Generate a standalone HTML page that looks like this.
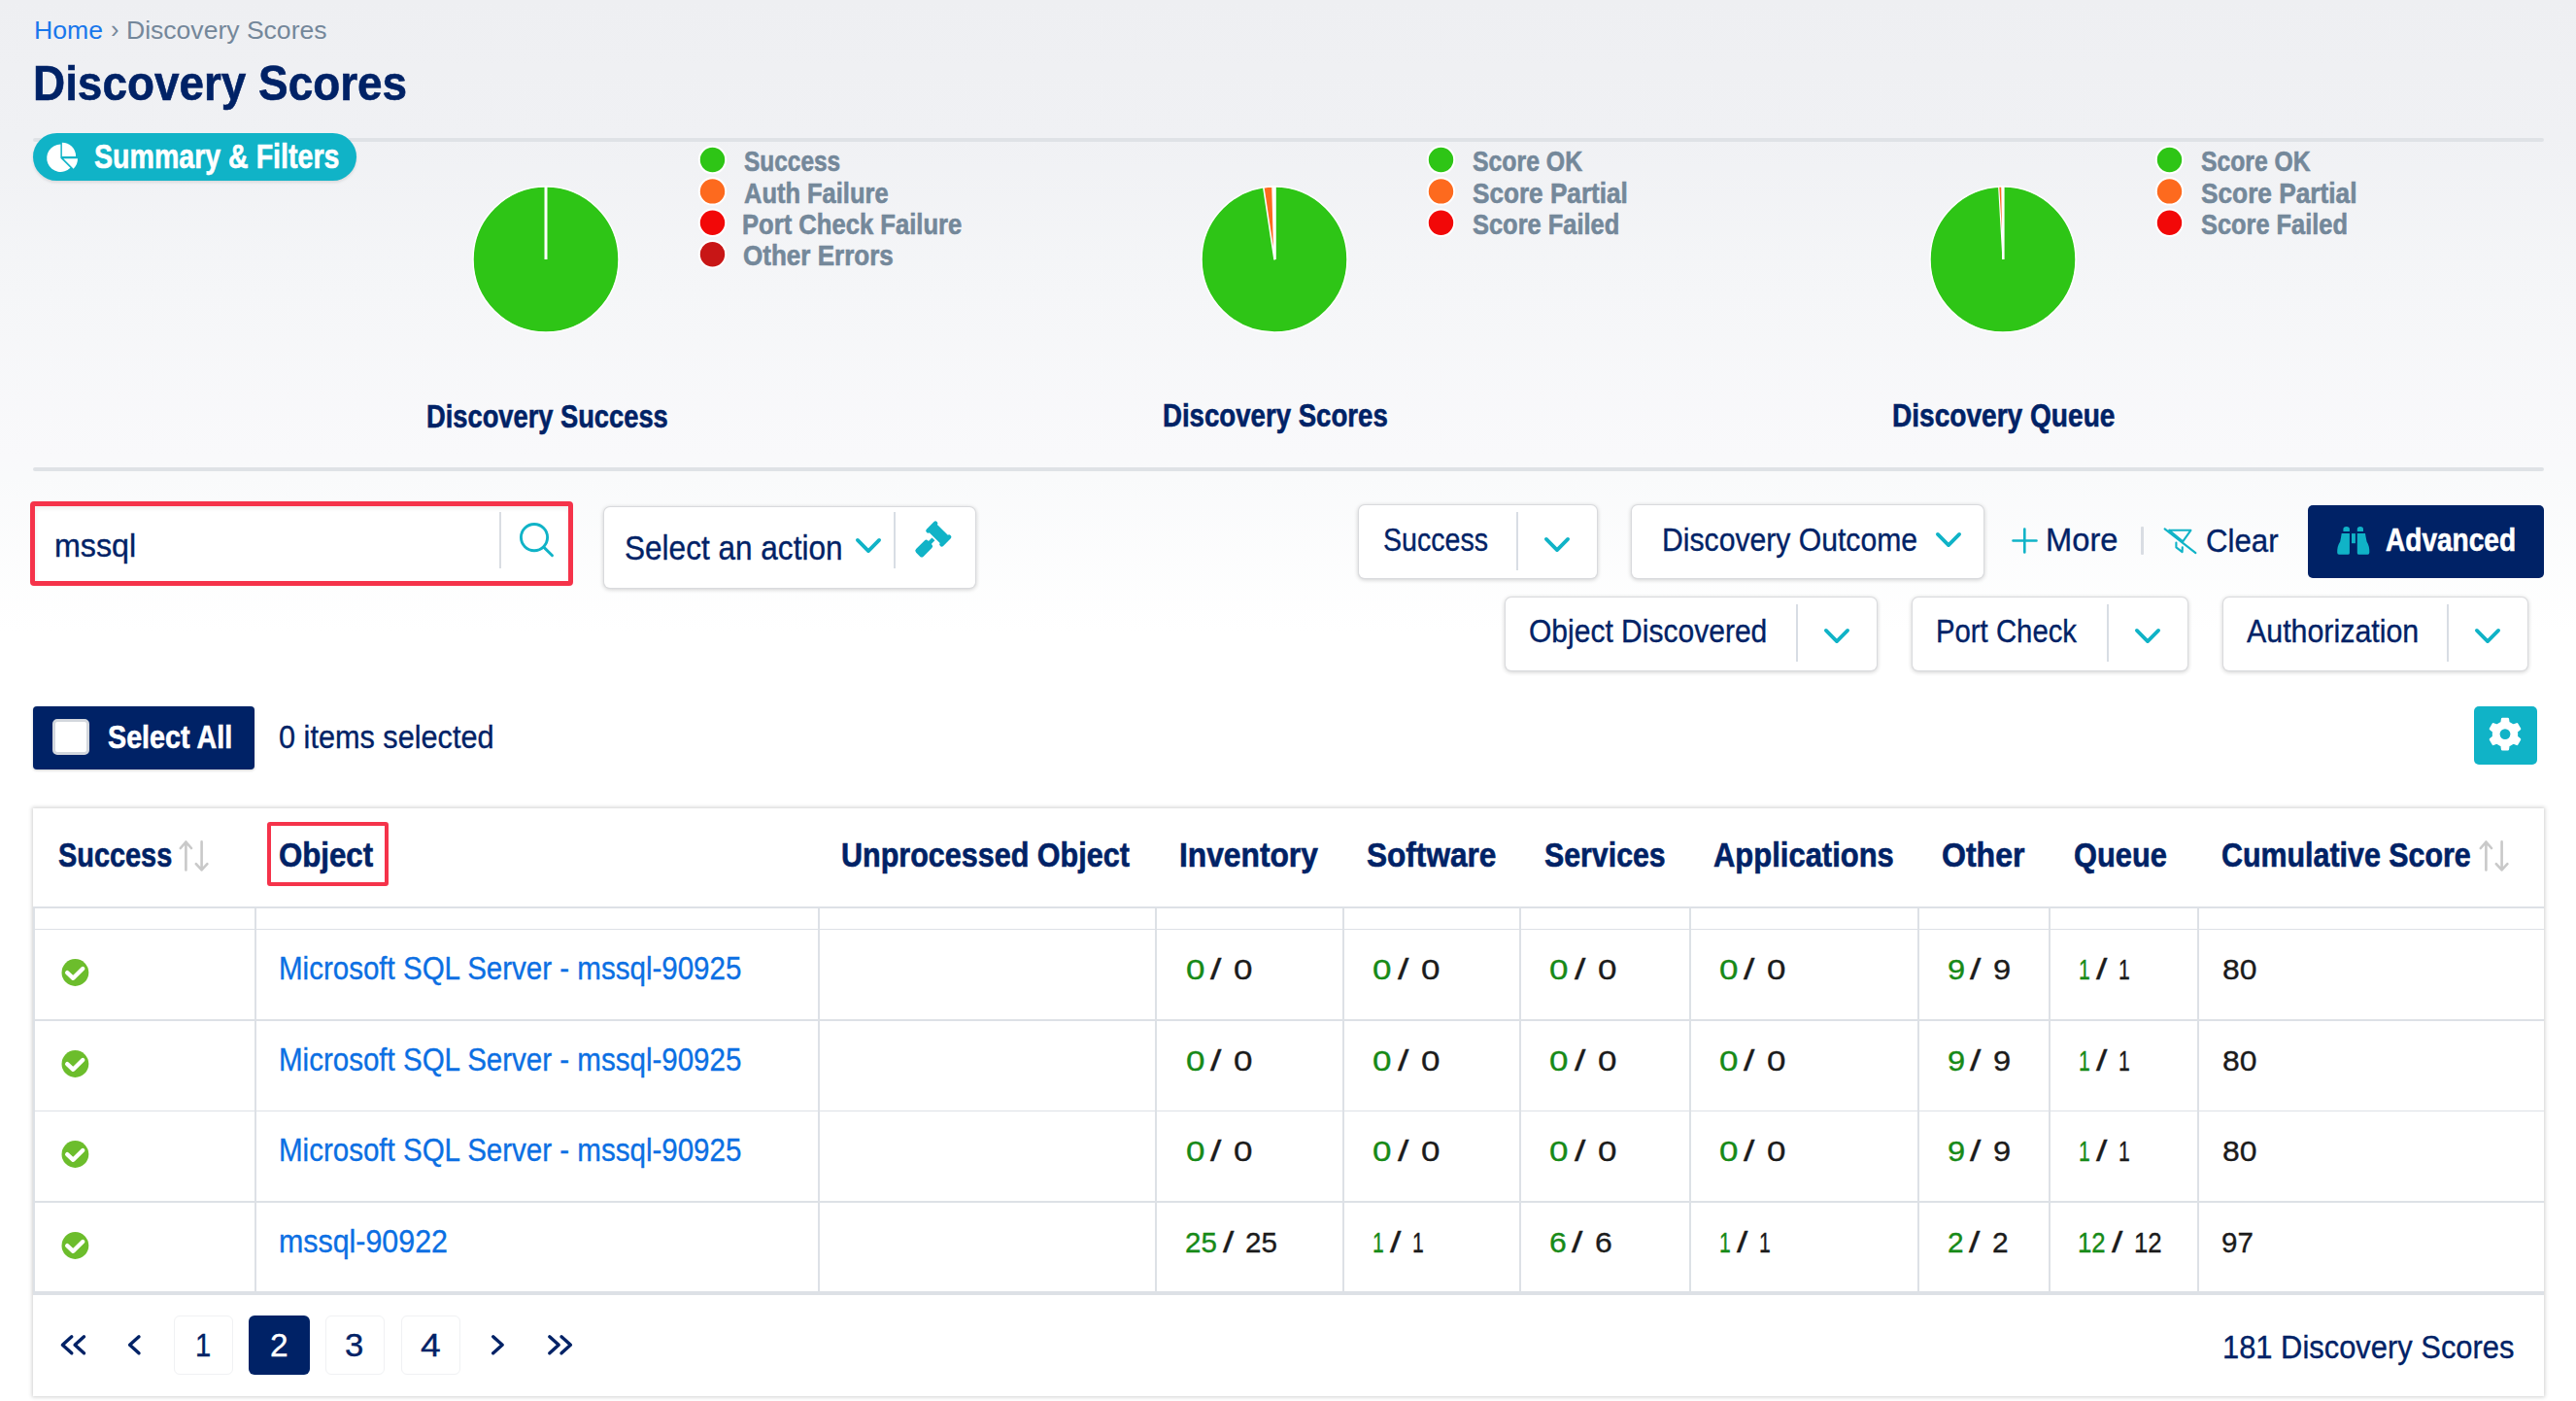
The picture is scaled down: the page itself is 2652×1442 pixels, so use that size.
<!DOCTYPE html>
<html><head><meta charset="utf-8"><title>Discovery Scores</title>
<style>
html,body{margin:0;padding:0}
body{width:2652px;height:1442px;position:relative;overflow:hidden;font-family:"Liberation Sans",sans-serif;background:linear-gradient(180deg,#eeeff2 0px,#f0f1f4 140px,#f5f6f8 300px,#f9f9fb 470px,#f9fafb 490px,#ffffff 650px,#ffffff 1442px)}
.a{position:absolute}
.t{position:absolute;white-space:pre;line-height:1;transform-origin:0 0;-webkit-text-stroke:0.35px currentColor}
.t[style*="font-weight:bold"]{-webkit-text-stroke:0.6px currentColor}
.dd{background:#fff;border-radius:6px;box-shadow:0 0 0 1px #d9dadd,0 1px 4px 1px rgba(0,0,0,.19)}
</style></head><body>
<div class="a" style="left:34px;top:142px;width:2585px;height:4px;background:#dfe2e6;border-radius:2px"></div><div class="a" style="left:34px;top:481px;width:2585px;height:4px;background:#dfe2e6;border-radius:2px"></div><div class="a" style="left:34px;top:137px;width:333px;height:49px;border-radius:25px;background:#10b3c7;box-shadow:0 2px 3px rgba(0,0,0,.10)"></div><svg class="a" style="left:0;top:0" width="400" height="200"><path d="M62.4,162.7 L72.44,172.74 A14.2,14.2 0 1 1 62.4,148.5 Z" fill="#fff"/><path d="M63.9,160.9 L63.90,146.70 A14.2,14.2 0 0 1 78.10,160.9 Z" fill="#fff"/><path d="M65.3,163.3 L80.00,163.30 A14.7,14.7 0 0 1 75.69,173.69 Z" fill="#fff"/></svg><svg class="a" style="left:0;top:0" width="2652" height="480"><circle cx="562" cy="267" r="75" fill="#2ec516" stroke="#fff" stroke-width="1.5"/><line x1="562" y1="191" x2="562" y2="267" stroke="#fff" stroke-width="3"/><circle cx="1312" cy="267" r="75" fill="#2ec516" stroke="#fff" stroke-width="1.5"/><path d="M1312,267 L1300.78,192.84 A75,75 0 0 1 1310.04,192.03 Z" fill="#fd6a1e" stroke="#fff" stroke-width="1.6" stroke-linejoin="round"/><path d="M1312,267 L1312,191 L1310.43,191 Z" fill="#fff"/><line x1="1312.6" y1="191" x2="1312.6" y2="267" stroke="#fff" stroke-width="2.4"/><circle cx="2062" cy="267" r="75" fill="#2ec516" stroke="#fff" stroke-width="1.5"/><path d="M2062,267 L2057.68,192.12 A75,75 0 0 1 2060.82,192.01 Z" fill="#fd6a1e" stroke="#fff" stroke-width="1.2"/><line x1="2062.3" y1="191" x2="2062.3" y2="267" stroke="#fff" stroke-width="2.6"/><circle cx="733.5" cy="164.5" r="13.7" fill="#2ec516" stroke="#fff" stroke-width="2"/><circle cx="733.5" cy="196.9" r="13.7" fill="#fd6a1e" stroke="#fff" stroke-width="2"/><circle cx="733.5" cy="229.3" r="13.7" fill="#f20808" stroke="#fff" stroke-width="2"/><circle cx="733.5" cy="261.7" r="13.7" fill="#c81616" stroke="#fff" stroke-width="2"/><circle cx="1483.5" cy="164.5" r="13.7" fill="#2ec516" stroke="#fff" stroke-width="2"/><circle cx="1483.5" cy="196.9" r="13.7" fill="#fd6a1e" stroke="#fff" stroke-width="2"/><circle cx="1483.5" cy="229.3" r="13.7" fill="#f20808" stroke="#fff" stroke-width="2"/><circle cx="2233.5" cy="164.5" r="13.7" fill="#2ec516" stroke="#fff" stroke-width="2"/><circle cx="2233.5" cy="196.9" r="13.7" fill="#fd6a1e" stroke="#fff" stroke-width="2"/><circle cx="2233.5" cy="229.3" r="13.7" fill="#f20808" stroke="#fff" stroke-width="2"/></svg><div class="a" style="left:31.4px;top:516.4px;width:549px;height:76.9px;border:5.8px solid #f5334a;border-radius:4px;background:#fff;box-shadow:inset 1px 3px 4px rgba(0,0,0,.06)"></div><div class="a" style="left:514px;top:527px;width:2px;height:58px;background:#d9dde3"></div><svg class="a" style="left:520px;top:525px" width="60" height="60"><circle cx="30" cy="28.1" r="13.6" fill="none" stroke="#10b3c7" stroke-width="2.9"/><line x1="40" y1="38.4" x2="48.5" y2="46.7" stroke="#10b3c7" stroke-width="2.9" stroke-linecap="round"/></svg><div class="a dd" style="left:621.5px;top:521.5px;width:382.0px;height:83.0px"></div><div class="a" style="left:920px;top:527px;width:2px;height:58px;background:#d8dde4"></div><svg class="a" style="left:878px;top:550.7px" width="32" height="21"><polyline points="4.9,4.9 16.0,16.1 27.1,4.9" fill="none" stroke="#10b3c7" stroke-width="3.8" stroke-linecap="round" stroke-linejoin="round"/></svg><svg class="a" style="left:930px;top:525px" width="60" height="60"><g transform="translate(36.3,24.5) rotate(45)" fill="#10b3c7"><rect x="-9.5" y="-5.8" width="19" height="11.6"/><rect x="-12.2" y="-7.6" width="4.6" height="15.2" rx="2.2"/><rect x="7.6" y="-7.6" width="4.6" height="15.2" rx="2.2"/><rect x="-2.1" y="7.6" width="4.2" height="6.5"/><rect x="-5.4" y="12.6" width="10.8" height="17.4" rx="2.6"/></g></svg><div class="a dd" style="left:1398.5px;top:520px;width:245.0px;height:75px"></div><div class="a" style="left:1560.8px;top:527.3px;width:2px;height:59.5px;background:#d8dde4"></div><svg class="a" style="left:1587px;top:549.5px" width="32" height="21"><polyline points="4.9,4.9 16.0,16.1 27.1,4.9" fill="none" stroke="#10b3c7" stroke-width="3.8" stroke-linecap="round" stroke-linejoin="round"/></svg><div class="a dd" style="left:1680px;top:520px;width:361.5px;height:75px"></div><svg class="a" style="left:1990px;top:545px" width="32" height="21"><polyline points="4.9,4.9 16.0,16.1 27.1,4.9" fill="none" stroke="#10b3c7" stroke-width="3.8" stroke-linecap="round" stroke-linejoin="round"/></svg><svg class="a" style="left:2068px;top:540px" width="34" height="34"><path d="M16.3,4.5 V28.5 M4.5,16.5 H28.5" stroke="#10b3c7" stroke-width="2.6" stroke-linecap="round"/></svg><div class="a" style="left:2204px;top:542px;width:2.5px;height:29px;background:#d9dde3;border-radius:1px"></div><svg class="a" style="left:2220px;top:535px" width="50" height="45" fill="none" stroke="#10b3c7" stroke-width="2.1" stroke-linecap="round" stroke-linejoin="round"><path d="M13.2,10.8 H35.4 L27.2,22.4 L13.2,10.8"/><path d="M20.4,23.6 V28.4 L26.6,33.2 L26.8,28.4"/><path d="M8.6,9.3 L40.4,34.1"/></svg><div class="a" style="left:2376px;top:520px;width:242.5px;height:75px;background:#002266;border-radius:5px"></div><svg class="a" style="left:2395px;top:535px" width="55" height="45" fill="#10b3c7"><path d="M17.4,11.9 V9.6 Q17.4,7.1 20.65,7.1 Q23.9,7.1 23.9,9.6 V11.9 Z"/><path d="M15.7,14.1 H23.9 V34.2 A1.7,1.7 0 0 1 22.2,35.8 H13 A2,2 0 0 1 11.2,33.8 Q11,27 14.2,22.5 Q15.3,17 15.7,14.1 Z"/><rect x="26" y="14.1" width="3.9" height="10.1"/><path d="M31.8,14.1 H40 Q40.4,17 41.6,22.5 Q44.5,27 44.3,33.8 A2,2 0 0 1 42.5,35.8 H33.5 A1.7,1.7 0 0 1 31.8,34.2 Z"/><path d="M31.8,11.9 V9.6 Q31.8,7.1 34.9,7.1 Q38,7.1 38,9.6 V11.9 Z"/></svg><div class="a dd" style="left:1550px;top:614.5px;width:382px;height:75.5px"></div><div class="a" style="left:1848.8px;top:621.8px;width:2px;height:59.5px;background:#d8dde4"></div><svg class="a" style="left:1875px;top:644.2px" width="32" height="21"><polyline points="4.9,4.9 16.0,16.1 27.1,4.9" fill="none" stroke="#10b3c7" stroke-width="3.8" stroke-linecap="round" stroke-linejoin="round"/></svg><div class="a dd" style="left:1968.5px;top:614.5px;width:283.0px;height:75.5px"></div><div class="a" style="left:2169px;top:621.8px;width:2px;height:59.5px;background:#d8dde4"></div><svg class="a" style="left:2195px;top:644.2px" width="32" height="21"><polyline points="4.9,4.9 16.0,16.1 27.1,4.9" fill="none" stroke="#10b3c7" stroke-width="3.8" stroke-linecap="round" stroke-linejoin="round"/></svg><div class="a dd" style="left:2288.5px;top:614.5px;width:313.5px;height:75.5px"></div><div class="a" style="left:2518.7px;top:621.8px;width:2px;height:59.5px;background:#d8dde4"></div><svg class="a" style="left:2545px;top:644.2px" width="32" height="21"><polyline points="4.9,4.9 16.0,16.1 27.1,4.9" fill="none" stroke="#10b3c7" stroke-width="3.8" stroke-linecap="round" stroke-linejoin="round"/></svg><div class="a" style="left:34px;top:727px;width:228px;height:65px;background:#002266;border-radius:4px;box-shadow:0 1px 3px rgba(0,0,0,.2)"></div><div class="a" style="left:54px;top:740px;width:32px;height:31px;background:#fff;border:3px solid #d3d7dd;border-radius:5px"></div><div class="a" style="left:2547px;top:727px;width:65px;height:60px;background:#10b3c7;border-radius:5px"></div><svg class="a" style="left:2547px;top:727px" width="65" height="60"><path d="M28.64,16.87 L29.24,12.94 L34.76,12.94 L35.36,16.87 L40.47,19.82 L44.18,18.38 L46.94,23.16 L43.84,25.65 L43.84,31.55 L46.94,34.04 L44.18,38.82 L40.47,37.38 L35.36,40.33 L34.76,44.26 L29.24,44.26 L28.64,40.33 L23.53,37.38 L19.82,38.82 L17.06,34.04 L20.16,31.55 L20.16,25.65 L17.06,23.16 L19.82,18.38 L23.53,19.82 Z" fill="#fff" stroke="#fff" stroke-width="2.6" stroke-linejoin="round"/><circle cx="32" cy="28.6" r="5.4" fill="#10b3c7"/></svg><div class="a" style="left:34px;top:831.5px;width:2585px;height:605px;background:#fff;box-shadow:0 0 4px 1px rgba(0,0,0,.19)"></div><div class="a" style="left:34px;top:933px;width:2585px;height:2px;background:#dde1e6"></div><div class="a" style="left:34px;top:955.5px;width:2585px;height:1.8px;background:#dde1e6"></div><div class="a" style="left:34px;top:1049px;width:2585px;height:1.8px;background:#dde1e6"></div><div class="a" style="left:34px;top:1142.5px;width:2585px;height:1.8px;background:#dde1e6"></div><div class="a" style="left:34px;top:1236px;width:2585px;height:1.8px;background:#dde1e6"></div><div class="a" style="left:34px;top:1329.3px;width:2585px;height:3.6px;background:#dde1e6"></div><div class="a" style="left:34px;top:935px;width:1.9px;height:395px;background:#dde1e6"></div><div class="a" style="left:261.7px;top:935px;width:2px;height:395px;background:#dde1e6"></div><div class="a" style="left:841.7px;top:935px;width:2px;height:395px;background:#dde1e6"></div><div class="a" style="left:1189.2px;top:935px;width:2px;height:395px;background:#dde1e6"></div><div class="a" style="left:1381.8px;top:935px;width:2px;height:395px;background:#dde1e6"></div><div class="a" style="left:1564px;top:935px;width:2px;height:395px;background:#dde1e6"></div><div class="a" style="left:1739px;top:935px;width:2px;height:395px;background:#dde1e6"></div><div class="a" style="left:1973.7px;top:935px;width:2px;height:395px;background:#dde1e6"></div><div class="a" style="left:2109px;top:935px;width:2px;height:395px;background:#dde1e6"></div><div class="a" style="left:2262px;top:935px;width:2px;height:395px;background:#dde1e6"></div><svg class="a" style="left:61px;top:985.0px" width="32" height="32"><circle cx="16.4" cy="16" r="13.9" fill="#6cbd2c"/><polyline points="8.2,16.2 14.3,21.8 24.2,12" fill="none" stroke="#fff" stroke-width="4.4" stroke-linecap="round" stroke-linejoin="round"/></svg><svg class="a" style="left:61px;top:1078.6px" width="32" height="32"><circle cx="16.4" cy="16" r="13.9" fill="#6cbd2c"/><polyline points="8.2,16.2 14.3,21.8 24.2,12" fill="none" stroke="#fff" stroke-width="4.4" stroke-linecap="round" stroke-linejoin="round"/></svg><svg class="a" style="left:61px;top:1172.2px" width="32" height="32"><circle cx="16.4" cy="16" r="13.9" fill="#6cbd2c"/><polyline points="8.2,16.2 14.3,21.8 24.2,12" fill="none" stroke="#fff" stroke-width="4.4" stroke-linecap="round" stroke-linejoin="round"/></svg><svg class="a" style="left:61px;top:1265.8px" width="32" height="32"><circle cx="16.4" cy="16" r="13.9" fill="#6cbd2c"/><polyline points="8.2,16.2 14.3,21.8 24.2,12" fill="none" stroke="#fff" stroke-width="4.4" stroke-linecap="round" stroke-linejoin="round"/></svg><div class="a" style="left:275px;top:845.5px;width:116.5px;height:58.5px;border:4px solid #f5334a;border-radius:3px"></div><svg class="a" style="left:183.5px;top:862px" width="36" height="38" fill="none" stroke="#c9c9c9" stroke-width="2.6" stroke-linecap="round" stroke-linejoin="round"><path d="M7.4,33.4 V4.6 M1.8,11 L7.4,4.6 L13,11"/><path d="M23.6,4.4 V33.4 M17.8,27.2 L23.6,33.4 L29.4,27.2"/></svg><svg class="a" style="left:2551.5px;top:862px" width="36" height="38" fill="none" stroke="#c9c9c9" stroke-width="2.6" stroke-linecap="round" stroke-linejoin="round"><path d="M7.4,33.4 V4.6 M1.8,11 L7.4,4.6 L13,11"/><path d="M23.6,4.4 V33.4 M17.8,27.2 L23.6,33.4 L29.4,27.2"/></svg><div class="a" style="left:179px;top:1353.6px;width:59px;height:59.2px;border:1px solid #f0f1f3;border-radius:6px"></div><div class="a" style="left:256px;top:1353.6px;width:62.60000000000002px;height:61.2px;background:#002266;border-radius:6px"></div><div class="a" style="left:334.7px;top:1353.6px;width:59.19999999999999px;height:59.2px;border:1px solid #f0f1f3;border-radius:6px"></div><div class="a" style="left:413px;top:1353.6px;width:59px;height:59.2px;border:1px solid #f0f1f3;border-radius:6px"></div><svg class="a" style="left:50px;top:1365px" width="560" height="40" fill="none" stroke="#002266" stroke-width="3.4" stroke-linecap="round" stroke-linejoin="round"><polyline points="23.8,10.8 14.4,19.3 23.8,27.8"/><polyline points="36.5,10.8 27.1,19.3 36.5,27.8"/><polyline points="93.0,10.8 83.6,19.3 93.0,27.8"/><polyline points="457.7,10.8 467.1,19.3 457.7,27.8"/><polyline points="515.8,10.8 525.2,19.3 515.8,27.8"/><polyline points="528.0,10.8 537.4,19.3 528.0,27.8"/></svg>
<span class="t" style="left:35.42px;top:19.16px;font-size:25.44px;font-weight:normal;color:#1877ec;transform:scaleX(1.0458);-webkit-text-stroke:0px currentColor">Home</span>
<span class="t" style="left:114.30px;top:17.99px;font-size:25.40px;font-weight:normal;color:#74879a;transform:scaleX(1.0079);-webkit-text-stroke:0px currentColor">›</span>
<span class="t" style="left:129.93px;top:19.16px;font-size:25.44px;font-weight:normal;color:#74879a;transform:scaleX(1.0435);-webkit-text-stroke:0px currentColor">Discovery Scores</span>
<span class="t" style="left:34.13px;top:61.42px;font-size:50.29px;font-weight:bold;color:#002266;transform:scaleX(0.9123)">Discovery Scores</span>
<span class="t" style="left:96.55px;top:143.58px;font-size:34.16px;font-weight:bold;color:#ffffff;transform:scaleX(0.8362)">Summary &amp; Filters</span>
<span class="t" style="left:765.62px;top:152.21px;font-size:28.92px;font-weight:bold;color:#74889a;transform:scaleX(0.8456)">Success</span>
<span class="t" style="left:765.60px;top:184.61px;font-size:28.92px;font-weight:bold;color:#74889a;transform:scaleX(0.8809)">Auth Failure</span>
<span class="t" style="left:764.40px;top:217.01px;font-size:28.92px;font-weight:bold;color:#74889a;transform:scaleX(0.8860)">Port Check Failure</span>
<span class="t" style="left:765.19px;top:249.41px;font-size:28.92px;font-weight:bold;color:#74889a;transform:scaleX(0.9004)">Other Errors</span>
<span class="t" style="left:1515.61px;top:152.21px;font-size:28.92px;font-weight:bold;color:#74889a;transform:scaleX(0.8586)">Score OK</span>
<span class="t" style="left:1515.59px;top:184.61px;font-size:28.92px;font-weight:bold;color:#74889a;transform:scaleX(0.9044)">Score Partial</span>
<span class="t" style="left:1515.60px;top:217.01px;font-size:28.92px;font-weight:bold;color:#74889a;transform:scaleX(0.8797)">Score Failed</span>
<span class="t" style="left:2265.61px;top:152.21px;font-size:28.92px;font-weight:bold;color:#74889a;transform:scaleX(0.8548)">Score OK</span>
<span class="t" style="left:2265.59px;top:184.61px;font-size:28.92px;font-weight:bold;color:#74889a;transform:scaleX(0.9079)">Score Partial</span>
<span class="t" style="left:2265.60px;top:217.01px;font-size:28.92px;font-weight:bold;color:#74889a;transform:scaleX(0.8780)">Score Failed</span>
<span class="t" style="left:439.29px;top:411.69px;font-size:33.43px;font-weight:bold;color:#002266;transform:scaleX(0.8163)">Discovery Success</span>
<span class="t" style="left:1197.27px;top:410.69px;font-size:33.43px;font-weight:bold;color:#002266;transform:scaleX(0.8262)">Discovery Scores</span>
<span class="t" style="left:1948.24px;top:410.89px;font-size:33.43px;font-weight:bold;color:#002266;transform:scaleX(0.8401)">Discovery Queue</span>
<span class="t" style="left:55.69px;top:545.68px;font-size:32.50px;font-weight:normal;color:#002266;transform:scaleX(0.9914)">mssql</span>
<span class="t" style="left:643.41px;top:546.99px;font-size:34.74px;font-weight:normal;color:#002266;transform:scaleX(0.9084)">Select an action</span>
<span class="t" style="left:1423.51px;top:538.76px;font-size:32.99px;font-weight:normal;color:#002266;transform:scaleX(0.8660)">Success</span>
<span class="t" style="left:1710.64px;top:538.76px;font-size:32.99px;font-weight:normal;color:#002266;transform:scaleX(0.9142)">Discovery Outcome</span>
<span class="t" style="left:2106.45px;top:538.69px;font-size:33.43px;font-weight:normal;color:#002266;transform:scaleX(0.9778)">More</span>
<span class="t" style="left:2271.24px;top:539.69px;font-size:33.43px;font-weight:normal;color:#002266;transform:scaleX(0.9340)">Clear</span>
<span class="t" style="left:2456.06px;top:539.19px;font-size:33.43px;font-weight:bold;color:#ffffff;transform:scaleX(0.8395)">Advanced</span>
<span class="t" style="left:1574.29px;top:633.46px;font-size:32.99px;font-weight:normal;color:#002266;transform:scaleX(0.9103)">Object Discovered</span>
<span class="t" style="left:1992.51px;top:633.46px;font-size:32.99px;font-weight:normal;color:#002266;transform:scaleX(0.8887)">Port Check</span>
<span class="t" style="left:2313.00px;top:633.46px;font-size:32.99px;font-weight:normal;color:#002266;transform:scaleX(0.9207)">Authorization</span>
<span class="t" style="left:111.25px;top:742.49px;font-size:33.43px;font-weight:bold;color:#ffffff;transform:scaleX(0.8587)">Select All</span>
<span class="t" style="left:286.94px;top:742.49px;font-size:33.43px;font-weight:normal;color:#002266;transform:scaleX(0.9173)">0 items selected</span>
<span class="t" style="left:59.55px;top:863.08px;font-size:34.16px;font-weight:bold;color:#002266;transform:scaleX(0.8456)">Success</span>
<span class="t" style="left:287.02px;top:863.08px;font-size:34.16px;font-weight:bold;color:#002266;transform:scaleX(0.9138)">Object</span>
<span class="t" style="left:866.47px;top:863.08px;font-size:34.16px;font-weight:bold;color:#002266;transform:scaleX(0.8937)">Unprocessed Object</span>
<span class="t" style="left:1213.72px;top:863.08px;font-size:34.16px;font-weight:bold;color:#002266;transform:scaleX(0.9294)">Inventory</span>
<span class="t" style="left:1407.41px;top:863.08px;font-size:34.16px;font-weight:bold;color:#002266;transform:scaleX(0.9246)">Software</span>
<span class="t" style="left:1589.53px;top:863.08px;font-size:34.16px;font-weight:bold;color:#002266;transform:scaleX(0.8872)">Services</span>
<span class="t" style="left:1764.32px;top:863.08px;font-size:34.16px;font-weight:bold;color:#002266;transform:scaleX(0.9067)">Applications</span>
<span class="t" style="left:1999.00px;top:863.08px;font-size:34.16px;font-weight:bold;color:#002266;transform:scaleX(0.9381)">Other</span>
<span class="t" style="left:2134.54px;top:863.08px;font-size:34.16px;font-weight:bold;color:#002266;transform:scaleX(0.9016)">Queue</span>
<span class="t" style="left:2287.05px;top:863.08px;font-size:34.16px;font-weight:bold;color:#002266;transform:scaleX(0.8897)">Cumulative Score</span>
<span class="t" style="left:286.99px;top:980.36px;font-size:32.99px;font-weight:normal;color:#0b6fe3;transform:scaleX(0.8951)">Microsoft SQL Server - mssql-90925</span>
<span class="t" style="left:2287.70px;top:983.07px;font-size:29.80px;font-weight:normal;color:#1b1b1b;transform:scaleX(1.0707)">80</span>
<span class="t" style="left:286.99px;top:1073.96px;font-size:32.99px;font-weight:normal;color:#0b6fe3;transform:scaleX(0.8951)">Microsoft SQL Server - mssql-90925</span>
<span class="t" style="left:2287.70px;top:1076.67px;font-size:29.80px;font-weight:normal;color:#1b1b1b;transform:scaleX(1.0707)">80</span>
<span class="t" style="left:286.99px;top:1167.26px;font-size:32.99px;font-weight:normal;color:#0b6fe3;transform:scaleX(0.8951)">Microsoft SQL Server - mssql-90925</span>
<span class="t" style="left:2287.70px;top:1169.97px;font-size:29.80px;font-weight:normal;color:#1b1b1b;transform:scaleX(1.0707)">80</span>
<span class="t" style="left:287.40px;top:1260.86px;font-size:32.99px;font-weight:normal;color:#0b6fe3;transform:scaleX(0.9213)">mssql-90922</span>
<span class="t" style="left:2287.31px;top:1263.57px;font-size:29.80px;font-weight:normal;color:#1b1b1b;transform:scaleX(0.9921)">97</span>
<span class="t" style="left:200.88px;top:1369.25px;font-size:32.30px;font-weight:normal;color:#002266;transform:scaleX(0.9019)">1</span>
<span class="t" style="left:277.93px;top:1369.25px;font-size:32.30px;font-weight:normal;color:#ffffff;transform:scaleX(1.0369)">2</span>
<span class="t" style="left:355.32px;top:1369.25px;font-size:32.30px;font-weight:normal;color:#002266;transform:scaleX(1.0738)">3</span>
<span class="t" style="left:432.72px;top:1369.25px;font-size:32.30px;font-weight:normal;color:#002266;transform:scaleX(1.1528)">4</span>
<span class="t" style="left:2288.07px;top:1370.49px;font-size:33.43px;font-weight:normal;color:#002266;transform:scaleX(0.9242)">181 Discovery Scores</span>
<span class="t" style="left:1220.61px;top:983.07px;font-size:29.80px;color:#178a17;transform:scaleX(1.1745)">0</span>
<span class="t" style="left:1246.00px;top:983.07px;font-size:29.80px;color:#1b1b1b;transform:scaleX(1.3721)">/</span>
<span class="t" style="left:1269.81px;top:983.07px;font-size:29.80px;color:#1b1b1b;transform:scaleX(1.1745)">0</span>
<span class="t" style="left:1413.31px;top:983.07px;font-size:29.80px;color:#178a17;transform:scaleX(1.1745)">0</span>
<span class="t" style="left:1438.70px;top:983.07px;font-size:29.80px;color:#1b1b1b;transform:scaleX(1.3721)">/</span>
<span class="t" style="left:1462.51px;top:983.07px;font-size:29.80px;color:#1b1b1b;transform:scaleX(1.1745)">0</span>
<span class="t" style="left:1595.31px;top:983.07px;font-size:29.80px;color:#178a17;transform:scaleX(1.1745)">0</span>
<span class="t" style="left:1620.70px;top:983.07px;font-size:29.80px;color:#1b1b1b;transform:scaleX(1.3721)">/</span>
<span class="t" style="left:1644.51px;top:983.07px;font-size:29.80px;color:#1b1b1b;transform:scaleX(1.1745)">0</span>
<span class="t" style="left:1770.01px;top:983.07px;font-size:29.80px;color:#178a17;transform:scaleX(1.1745)">0</span>
<span class="t" style="left:1795.40px;top:983.07px;font-size:29.80px;color:#1b1b1b;transform:scaleX(1.3721)">/</span>
<span class="t" style="left:1819.21px;top:983.07px;font-size:29.80px;color:#1b1b1b;transform:scaleX(1.1745)">0</span>
<span class="t" style="left:2004.67px;top:983.07px;font-size:29.80px;color:#178a17;transform:scaleX(1.0953)">9</span>
<span class="t" style="left:2028.30px;top:983.07px;font-size:29.80px;color:#1b1b1b;transform:scaleX(1.3721)">/</span>
<span class="t" style="left:2051.67px;top:983.07px;font-size:29.80px;color:#1b1b1b;transform:scaleX(1.0953)">9</span>
<span class="t" style="left:2139.78px;top:983.07px;font-size:29.80px;color:#178a17;transform:scaleX(0.7109)">1</span>
<span class="t" style="left:2157.50px;top:983.07px;font-size:29.80px;color:#1b1b1b;transform:scaleX(1.3721)">/</span>
<span class="t" style="left:2181.08px;top:983.07px;font-size:29.80px;color:#1b1b1b;transform:scaleX(0.7109)">1</span>
<span class="t" style="left:1220.61px;top:1076.67px;font-size:29.80px;color:#178a17;transform:scaleX(1.1745)">0</span>
<span class="t" style="left:1246.00px;top:1076.67px;font-size:29.80px;color:#1b1b1b;transform:scaleX(1.3721)">/</span>
<span class="t" style="left:1269.81px;top:1076.67px;font-size:29.80px;color:#1b1b1b;transform:scaleX(1.1745)">0</span>
<span class="t" style="left:1413.31px;top:1076.67px;font-size:29.80px;color:#178a17;transform:scaleX(1.1745)">0</span>
<span class="t" style="left:1438.70px;top:1076.67px;font-size:29.80px;color:#1b1b1b;transform:scaleX(1.3721)">/</span>
<span class="t" style="left:1462.51px;top:1076.67px;font-size:29.80px;color:#1b1b1b;transform:scaleX(1.1745)">0</span>
<span class="t" style="left:1595.31px;top:1076.67px;font-size:29.80px;color:#178a17;transform:scaleX(1.1745)">0</span>
<span class="t" style="left:1620.70px;top:1076.67px;font-size:29.80px;color:#1b1b1b;transform:scaleX(1.3721)">/</span>
<span class="t" style="left:1644.51px;top:1076.67px;font-size:29.80px;color:#1b1b1b;transform:scaleX(1.1745)">0</span>
<span class="t" style="left:1770.01px;top:1076.67px;font-size:29.80px;color:#178a17;transform:scaleX(1.1745)">0</span>
<span class="t" style="left:1795.40px;top:1076.67px;font-size:29.80px;color:#1b1b1b;transform:scaleX(1.3721)">/</span>
<span class="t" style="left:1819.21px;top:1076.67px;font-size:29.80px;color:#1b1b1b;transform:scaleX(1.1745)">0</span>
<span class="t" style="left:2004.67px;top:1076.67px;font-size:29.80px;color:#178a17;transform:scaleX(1.0953)">9</span>
<span class="t" style="left:2028.30px;top:1076.67px;font-size:29.80px;color:#1b1b1b;transform:scaleX(1.3721)">/</span>
<span class="t" style="left:2051.67px;top:1076.67px;font-size:29.80px;color:#1b1b1b;transform:scaleX(1.0953)">9</span>
<span class="t" style="left:2139.78px;top:1076.67px;font-size:29.80px;color:#178a17;transform:scaleX(0.7109)">1</span>
<span class="t" style="left:2157.50px;top:1076.67px;font-size:29.80px;color:#1b1b1b;transform:scaleX(1.3721)">/</span>
<span class="t" style="left:2181.08px;top:1076.67px;font-size:29.80px;color:#1b1b1b;transform:scaleX(0.7109)">1</span>
<span class="t" style="left:1220.61px;top:1169.97px;font-size:29.80px;color:#178a17;transform:scaleX(1.1745)">0</span>
<span class="t" style="left:1246.00px;top:1169.97px;font-size:29.80px;color:#1b1b1b;transform:scaleX(1.3721)">/</span>
<span class="t" style="left:1269.81px;top:1169.97px;font-size:29.80px;color:#1b1b1b;transform:scaleX(1.1745)">0</span>
<span class="t" style="left:1413.31px;top:1169.97px;font-size:29.80px;color:#178a17;transform:scaleX(1.1745)">0</span>
<span class="t" style="left:1438.70px;top:1169.97px;font-size:29.80px;color:#1b1b1b;transform:scaleX(1.3721)">/</span>
<span class="t" style="left:1462.51px;top:1169.97px;font-size:29.80px;color:#1b1b1b;transform:scaleX(1.1745)">0</span>
<span class="t" style="left:1595.31px;top:1169.97px;font-size:29.80px;color:#178a17;transform:scaleX(1.1745)">0</span>
<span class="t" style="left:1620.70px;top:1169.97px;font-size:29.80px;color:#1b1b1b;transform:scaleX(1.3721)">/</span>
<span class="t" style="left:1644.51px;top:1169.97px;font-size:29.80px;color:#1b1b1b;transform:scaleX(1.1745)">0</span>
<span class="t" style="left:1770.01px;top:1169.97px;font-size:29.80px;color:#178a17;transform:scaleX(1.1745)">0</span>
<span class="t" style="left:1795.40px;top:1169.97px;font-size:29.80px;color:#1b1b1b;transform:scaleX(1.3721)">/</span>
<span class="t" style="left:1819.21px;top:1169.97px;font-size:29.80px;color:#1b1b1b;transform:scaleX(1.1745)">0</span>
<span class="t" style="left:2004.67px;top:1169.97px;font-size:29.80px;color:#178a17;transform:scaleX(1.0953)">9</span>
<span class="t" style="left:2028.30px;top:1169.97px;font-size:29.80px;color:#1b1b1b;transform:scaleX(1.3721)">/</span>
<span class="t" style="left:2051.67px;top:1169.97px;font-size:29.80px;color:#1b1b1b;transform:scaleX(1.0953)">9</span>
<span class="t" style="left:2139.78px;top:1169.97px;font-size:29.80px;color:#178a17;transform:scaleX(0.7109)">1</span>
<span class="t" style="left:2157.50px;top:1169.97px;font-size:29.80px;color:#1b1b1b;transform:scaleX(1.3721)">/</span>
<span class="t" style="left:2181.08px;top:1169.97px;font-size:29.80px;color:#1b1b1b;transform:scaleX(0.7109)">1</span>
<span class="t" style="left:1220.31px;top:1263.57px;font-size:29.80px;color:#178a17;transform:scaleX(0.9921)">25</span>
<span class="t" style="left:1258.80px;top:1263.57px;font-size:29.80px;color:#1b1b1b;transform:scaleX(1.3721)">/</span>
<span class="t" style="left:1282.31px;top:1263.57px;font-size:29.80px;color:#1b1b1b;transform:scaleX(0.9921)">25</span>
<span class="t" style="left:1413.08px;top:1263.57px;font-size:29.80px;color:#178a17;transform:scaleX(0.7109)">1</span>
<span class="t" style="left:1430.80px;top:1263.57px;font-size:29.80px;color:#1b1b1b;transform:scaleX(1.3721)">/</span>
<span class="t" style="left:1454.38px;top:1263.57px;font-size:29.80px;color:#1b1b1b;transform:scaleX(0.7109)">1</span>
<span class="t" style="left:1594.90px;top:1263.57px;font-size:29.80px;color:#178a17;transform:scaleX(1.0738)">6</span>
<span class="t" style="left:1618.20px;top:1263.57px;font-size:29.80px;color:#1b1b1b;transform:scaleX(1.3721)">/</span>
<span class="t" style="left:1641.60px;top:1263.57px;font-size:29.80px;color:#1b1b1b;transform:scaleX(1.0738)">6</span>
<span class="t" style="left:1769.78px;top:1263.57px;font-size:29.80px;color:#178a17;transform:scaleX(0.7109)">1</span>
<span class="t" style="left:1787.50px;top:1263.57px;font-size:29.80px;color:#1b1b1b;transform:scaleX(1.3721)">/</span>
<span class="t" style="left:1811.08px;top:1263.57px;font-size:29.80px;color:#1b1b1b;transform:scaleX(0.7109)">1</span>
<span class="t" style="left:2004.80px;top:1263.57px;font-size:29.80px;color:#178a17;transform:scaleX(1.0022)">2</span>
<span class="t" style="left:2027.00px;top:1263.57px;font-size:29.80px;color:#1b1b1b;transform:scaleX(1.3721)">/</span>
<span class="t" style="left:2050.50px;top:1263.57px;font-size:29.80px;color:#1b1b1b;transform:scaleX(1.0022)">2</span>
<span class="t" style="left:2139.49px;top:1263.57px;font-size:29.80px;color:#178a17;transform:scaleX(0.8645)">12</span>
<span class="t" style="left:2173.90px;top:1263.57px;font-size:29.80px;color:#1b1b1b;transform:scaleX(1.3721)">/</span>
<span class="t" style="left:2197.19px;top:1263.57px;font-size:29.80px;color:#1b1b1b;transform:scaleX(0.8645)">12</span>
</body></html>
